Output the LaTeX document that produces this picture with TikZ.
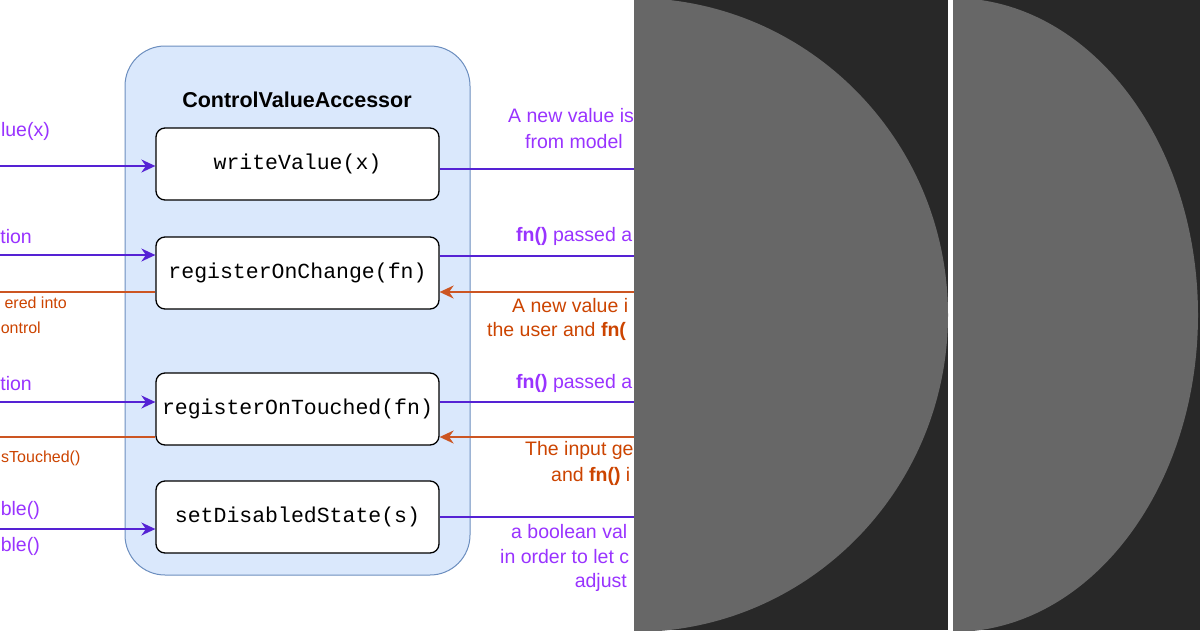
\documentclass[tikz,border=0pt]{standalone}
\usepackage{fontspec}
\setmainfont{Liberation Sans}
\newfontfamily\monof{Liberation Mono}
\usetikzlibrary{arrows.meta}
\definecolor{pl}{HTML}{5522D4}
\definecolor{pt}{HTML}{9933FF}
\definecolor{ol}{HTML}{CC5522}
\definecolor{ot}{HTML}{CC4400}
\definecolor{cfill}{HTML}{DAE8FC}
\definecolor{cdraw}{HTML}{6C8EBF}
\definecolor{dk}{HTML}{282828}
\definecolor{gr}{HTML}{676767}
\tikzset{
 x=1pt,y=-1pt,
 box/.style={draw=black,line width=1.3pt,fill=white,rounded corners=9pt,minimum width=283pt,minimum height=72pt,inner sep=0pt,font=\monof\fontsize{21.5}{24}\selectfont},
 pin/.style={pl,line width=1.6pt,-{Stealth[length=14pt,width=13pt]}},
 pout/.style={pl,line width=1.6pt},
 oin/.style={ol,line width=1.6pt,-{Stealth[length=14pt,width=13pt]}},
 oout/.style={ol,line width=1.6pt},
 ptx/.style={pt,font=\fontsize{19.5}{22}\selectfont,inner sep=0pt},
 otx/.style={ot,font=\fontsize{19.5}{22}\selectfont,inner sep=0pt},
 otxs/.style={ot,font=\fontsize{16}{19}\selectfont,inner sep=0pt},
}
\begin{document}
\begin{tikzpicture}
\useasboundingbox (0,0) rectangle (1200,630);
\fill[white] (0,0) rectangle (1200,630);
\draw[cdraw,fill=cfill,line width=1pt,rounded corners=40pt] (125,46) rectangle (470,575);
\node[font=\bfseries\fontsize{21.5}{24}\selectfont] (title) at (297,100) {ControlValueAccessor};
\node[box] (wv) at (297.5,164) {writeValue(x)};
\node[box] (roc) at (297.5,273) {registerOnChange(fn)};
\node[box] (rot) at (297.5,409) {registerOnTouched(fn)};
\node[box] (sds) at (297.5,517) {setDisabledState(s)};
% left ends
\coordinate (l1) at (0,166); \coordinate (l2) at (0,255); \coordinate (l3) at (0,292);
\coordinate (l4) at (0,402); \coordinate (l5) at (0,437); \coordinate (l6) at (0,529);
% right ends
\coordinate (r1) at (634,169); \coordinate (r2) at (634,256); \coordinate (r3) at (634,292);
\coordinate (r4) at (634,402); \coordinate (r5) at (634,437); \coordinate (r6) at (634,517);
\draw[pin] (l1) -- (wv.west|-l1);
\draw[pin] (l2) -- (roc.west|-l2);
\draw[oout] (roc.west|-l3) -- (l3);
\draw[pin] (l4) -- (rot.west|-l4);
\draw[oout] (rot.west|-l5) -- (l5);
\draw[pin] (l6) -- (sds.west|-l6);
\draw[pout] (wv.east|-r1) -- (r1);
\draw[pout] (roc.east|-r2) -- (r2);
\draw[oin] (r3) -- (roc.east|-r3);
\draw[pout] (rot.east|-r4) -- (r4);
\draw[oin] (r5) -- (rot.east|-r5);
\draw[pout] (sds.east|-r6) -- (r6);
% left labels
\node[ptx,anchor=east] (t1) at (50,131) {lue(x)};
\node[ptx,anchor=east] (t2) at (32,237) {tion};
\node[otxs,anchor=east] (t3) at (67,303) {ered into};
\node[otxs,anchor=east] (t4) at (41,328) {ontrol};
\node[ptx,anchor=east] (t5) at (32,384) {tion};
\node[otxs,anchor=west] (t6) at (1,458) {sTouched()};
\node[ptx,anchor=east] (t7) at (40,510) {ble()};
\node[ptx,anchor=east] (t8) at (40,546) {ble()};
% right labels
\node[ptx,anchor=west] (u1) at (508,116) {A new value is};
\node[ptx,anchor=west] (u2) at (525,142) {from model};
\node[ptx,anchor=west] (u3) at (516,236) {\textbf{fn()} passed a};
\node[otx,anchor=west] (u4) at (512,306) {A new value i};
\node[otx,anchor=west] (u5) at (487,331) {the user and \textbf{fn(}};
\node[ptx,anchor=west] (u6) at (516,383) {\textbf{fn()} passed a};
\node[otx,anchor=west] (u7) at (525,450) {The input ge};
\node[otx,anchor=west] (u8) at (551,476) {and \textbf{fn()} i};
\node[ptx,anchor=west] (u9) at (511,532) {a boolean val};
\node[ptx,anchor=west] (u10) at (500,557) {in order to let c};
\node[ptx,anchor=east] (u11) at (627,582) {adjust};
% dark panels
\fill[dk] (634,0) rectangle (948,630);
\fill[dk] (953,0) rectangle (1200,630);
\begin{scope}
\clip (634,0) rectangle (948,630);
\fill[gr] (634,315) ellipse [x radius=314, y radius=317];
\end{scope}
\begin{scope}
\clip (953,0) rectangle (1200,630);
\fill[gr] (953,315) ellipse [x radius=245, y radius=317];
\end{scope}
\end{tikzpicture}
\end{document}
